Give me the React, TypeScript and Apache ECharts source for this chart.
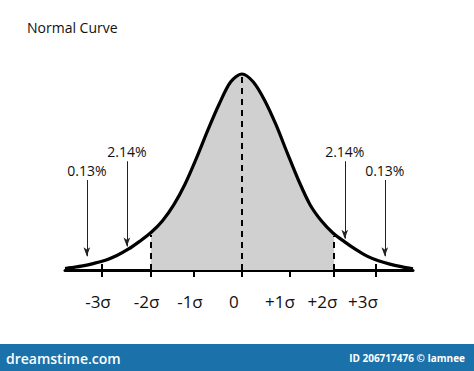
import React, { useEffect, useRef } from 'react';
import * as echarts from 'echarts';

// Curve (x in sigma units, y in % of peak height)
const curveX = [-3.89, -3.75, -3.5, -3.25, -3.0, -2.75, -2.5, -2.25, -2.0, -1.75, -1.5, -1.25, -1.0, -0.75, -0.5, -0.25, 0, 0.25, 0.5, 0.75, 1.0, 1.25, 1.5, 1.75, 2.0, 2.25, 2.5, 2.75, 3.0, 3.25, 3.5, 3.76];
const curveY = [0.77, 1.2, 2.1, 3.4, 5.0, 7.4, 10.6, 14.6, 19.1, 25, 33.2, 43.9, 57.1, 71.4, 84.7, 95.9, 100, 95.9, 86.5, 74, 59.5, 45.4, 33.2, 25, 18.9, 14.5, 10.5, 7.1, 4.7, 3.0, 1.7, 0.6];

// Sigma tick positions and labels
const sigmaPos = [-3.08, -2.01, -1.07, 0, 1.04, 2.02, 2.95];
const labelPos = [-3.165, -2.095, -1.143, -0.176, 0.835, 1.769, 2.659];
const tickLabels = ['-3σ', '-2σ', '-1σ', '0', '+1σ', '+2σ', '+3σ'];

// Dashed vertical lines
const dashX = [-3.08, -2.01, 0, 2.02, 2.95];
const dashTop = [4.3, 17.9, 100, 17.3, 4.2];

// Shaded band
const shadeFrom = -2.01;
const shadeTo = 2.02;

// Arrows with percentages
const arrowText = ['0.13%', '2.14%', '2.14%', '0.13%'];
const arrowX = [-3.41, -2.53, 2.26, 3.14];
const arrowTop = [45.9, 55.5, 55.5, 45.9];
const arrowTip = [7.0, 12, 16, 7.0];

const X_MIN = -3.89;
const X_MAX = 3.76;

export default function App() {
  const ref = useRef<HTMLDivElement>(null);
  useEffect(() => {
    if (!ref.current) return;
    const chart = echarts.init(ref.current, undefined, { renderer: 'svg' });
    const option: any = {
      animation: false,
      backgroundColor: '#ffffff',
      title: {
        text: 'Normal Curve',
        left: 27,
        top: 20,
        padding: 0,
        textStyle: { fontFamily: 'Open Sans', fontSize: 14, fontWeight: 'normal', color: '#111' },
      },
      grid: { left: 65, right: 61, top: 54.4, bottom: 101 },
      xAxis: [
        {
          type: 'value',
          position: 'bottom',
          min: X_MIN,
          max: X_MAX,
          axisLine: { show: true, onZero: false, lineStyle: { color: '#000', width: 3 } },
          axisTick: { show: false },
          axisLabel: { show: false },
          splitLine: { show: false },
        },
        {
          type: 'value',
          position: 'bottom',
          offset: 7,
          min: X_MIN,
          max: X_MAX,
          axisLine: { show: false },
          axisTick: { show: true, customValues: sigmaPos, length: 7, lineStyle: { color: '#000', width: 2 } },
          axisLabel: {
            show: true,
            customValues: labelPos,
            formatter: (v: number, i: number) => {
              const k = labelPos.indexOf(v);
              return tickLabels[k >= 0 ? k : i] ?? '';
            },
            margin: 16,
            fontSize: 17,
            fontFamily: 'Open Sans',
            color: '#111',
          },
          splitLine: { show: false },
        },
      ],
      yAxis: { type: 'value', min: 0, max: 110, show: false },
      visualMap: {
        type: 'piecewise',
        show: false,
        dimension: 0,
        seriesIndex: 0,
        pieces: [{ gte: shadeFrom, lte: shadeTo, color: '#d0d0d0' }],
        outOfRange: { color: 'rgba(255,255,255,0)' },
      },
      series: [
        {
          type: 'line',
          xAxisIndex: 0,
          data: curveX.map((x, i) => [x, curveY[i]]),
          smooth: 0.3,
          symbol: 'none',
          clip: false,
          lineStyle: { color: '#000', width: 3.2 },
          areaStyle: { opacity: 1 },
          z: 3,
          markLine: {
            silent: true,
            symbol: ['none', 'none'],
            label: { show: false },
            lineStyle: { color: '#000', width: 2, type: [6, 5] },
            data: dashX.map((x, i) => [{ coord: [x, 0] }, { coord: [x, dashTop[i]] }]),
          },
        },
        {
          type: 'line',
          xAxisIndex: 0,
          data: [],
          markLine: {
            silent: true,
            symbol: ['none', 'arrow'],
            symbolSize: [5, 9],
            lineStyle: { color: '#222', width: 1, type: 'solid' },
            label: {
              show: true,
              position: 'start',
              distance: 3,
              formatter: (p: any) => p.name,
              fontSize: 14,
              fontFamily: 'Open Sans',
              color: '#111',
            },
            data: arrowX.map((x, i) => [
              { coord: [x, arrowTop[i]], name: arrowText[i] },
              { coord: [x, arrowTip[i]] },
            ]),
          },
        },
      ],
      graphic: [
        { type: 'rect', x: 0, y: 344, shape: { width: 474, height: 27 }, style: { fill: '#1b72ab' } },
        {
          type: 'text',
          x: 6,
          y: 358,
          style: { text: 'dreamstime.com', fill: '#ffffff', font: '600 14px "Open Sans"', textVerticalAlign: 'middle' },
        },
        {
          type: 'text',
          x: 465,
          y: 358,
          style: { text: 'ID 206717476 © Iamnee', fill: '#ffffff', font: 'bold 10px "Open Sans"', textAlign: 'right', textVerticalAlign: 'middle' },
        },
      ],
    };
    chart.setOption(option);
    return () => chart.dispose();
  }, []);
  return <div ref={ref} style={{ position: 'fixed', left: 0, top: 0, width: 474, height: 371 }} />;
}
